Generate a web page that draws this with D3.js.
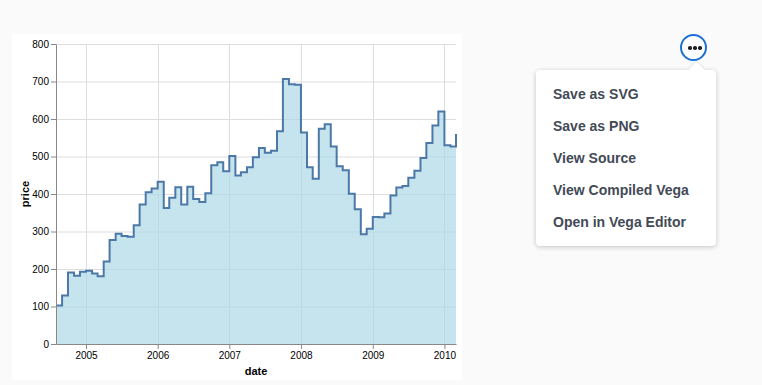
<!DOCTYPE html>
<html>
<head>
<meta charset="utf-8">
<script src="https://cdn.jsdelivr.net/npm/d3@7"></script>
<style>
  body { margin: 0; background: #fafafa; font-family: "Liberation Sans", Arial, sans-serif; }
  #wrap { position: relative; width: 762px; height: 385px; overflow: hidden; }
  .btn { position: absolute; left: 680px; top: 34px; width: 23px; height: 23px; border: 2px solid #1a6fd6;
         border-radius: 50%; background: #fff; }
  .dots { position: absolute; left: 6px; top: 10px; }
  .dots span { display: inline-block; width: 3.5px; height: 3.5px; border-radius: 50%; background: #1b1e23;
               margin-right: 1.5px; float: left; }
  .menu { position: absolute; left: 536px; top: 70px; width: 180px; height: 176px; background: #fff;
          border-radius: 4px; box-shadow: 0 1px 5px rgba(0,0,0,0.22); }
  .menu::before { content: ""; position: absolute; left: 155px; top: -6px; width: 11px; height: 11px;
                  background: #fff; transform: rotate(45deg); box-shadow: -1px -1px 2px rgba(0,0,0,0.08); }
  .menu div { position: relative; padding-left: 17px; height: 32px; line-height: 32px; font-size: 14px;
              font-weight: bold; color: #434a56; }
  .menu .first { margin-top: 8px; }
</style>
</head>
<body>
<div id="wrap">
  <svg id="chart" width="762" height="385"></svg>
  <div class="btn"><div class="dots"><span></span><span></span><span></span></div></div>
  <div class="menu">
    <div class="first">Save as SVG</div>
    <div>Save as PNG</div>
    <div>View Source</div>
    <div>View Compiled Vega</div>
    <div>Open in Vega Editor</div>
  </div>
</div>
<script>
// GOOG monthly prices
var dates = ["2004-08-01","2004-09-01","2004-10-01","2004-11-01","2004-12-01",
  "2005-01-01","2005-02-01","2005-03-01","2005-04-01","2005-05-01","2005-06-01",
  "2005-07-01","2005-08-01","2005-09-01","2005-10-01","2005-11-01","2005-12-01",
  "2006-01-01","2006-02-01","2006-03-01","2006-04-01","2006-05-01","2006-06-01",
  "2006-07-01","2006-08-01","2006-09-01","2006-10-01","2006-11-01","2006-12-01",
  "2007-01-01","2007-02-01","2007-03-01","2007-04-01","2007-05-01","2007-06-01",
  "2007-07-01","2007-08-01","2007-09-01","2007-10-01","2007-11-01","2007-12-01",
  "2008-01-01","2008-02-01","2008-03-01","2008-04-01","2008-05-01","2008-06-01",
  "2008-07-01","2008-08-01","2008-09-01","2008-10-01","2008-11-01","2008-12-01",
  "2009-01-01","2009-02-01","2009-03-01","2009-04-01","2009-05-01","2009-06-01",
  "2009-07-01","2009-08-01","2009-09-01","2009-10-01","2009-11-01","2009-12-01",
  "2010-01-01","2010-02-01","2010-03-01"];
var prices = [102.37, 129.6, 190.64, 181.98, 192.79,
  195.62, 187.99, 180.51, 220, 277.27, 294.15,
  287.76, 286, 316.46, 372.14, 404.91, 414.86,
  432.66, 362.62, 390, 417.94, 371.82, 419.33,
  386.6, 378.53, 401.9, 476.39, 484.81, 460.48,
  501.5, 449.45, 458.16, 471.38, 497.91, 522.7,
  510, 515.25, 567.27, 707, 693, 691.48,
  564.3, 471.18, 440.47, 574.29, 585.8, 526.42,
  473.75, 463.29, 400.52, 359.36, 292.96, 307.65,
  338.53, 337.99, 348.06, 395.97, 417.23, 421.59,
  443.05, 461.67, 495.85, 536.12, 583, 619.98,
  529.94, 526.8, 560.19];
var yTicks = [0, 100, 200, 300, 400, 500, 600, 700, 800];
var xTicks = ["2005", "2006", "2007", "2008", "2009", "2010"];

var parse = d3.timeParse("%Y-%m-%d");
var data = dates.map(function(d, i) { return { date: parse(d), price: prices[i] }; });

var svg = d3.select("#chart");
svg.append("rect").attr("x", 12).attr("y", 34).attr("width", 450).attr("height", 346).attr("fill", "#fff");

var g = svg.append("g").attr("transform", "translate(56,44)");
var W = 400, H = 300;

var x = d3.scaleTime().domain(d3.extent(data, function(d) { return d.date; })).range([0, W]);
var y = d3.scaleLinear().domain([0, 800]).range([H, 0]);
var yearDates = xTicks.map(function(t) { return parse(t + "-01-01"); });

// grid
g.append("g").selectAll("line").data(yTicks).enter().append("line")
  .attr("x1", 0).attr("x2", W).attr("y1", function(d) { return y(d) + 0.5; }).attr("y2", function(d) { return y(d) + 0.5; })
  .attr("stroke", "#ddd");
g.append("g").selectAll("line").data(yearDates).enter().append("line")
  .attr("y1", 0).attr("y2", H).attr("x1", function(d) { return Math.round(x(d)) + 0.5; }).attr("x2", function(d) { return Math.round(x(d)) + 0.5; })
  .attr("stroke", "#ddd");

// area + line
var area = d3.area().curve(d3.curveStepAfter)
  .x(function(d) { return x(d.date); }).y0(y(0)).y1(function(d) { return y(d.price); });
var line = d3.line().curve(d3.curveStepAfter)
  .x(function(d) { return x(d.date); }).y(function(d) { return y(d.price); });

g.append("path").datum(data).attr("d", area).attr("fill", "lightblue").attr("fill-opacity", 0.7);
g.append("path").datum(data).attr("d", line).attr("fill", "none").attr("stroke", "#4c78a8").attr("stroke-width", 2);

// axes
var xAxis = d3.axisBottom(x).tickValues(yearDates).tickFormat(d3.timeFormat("%Y")).tickSize(5).tickPadding(3);
var yAxis = d3.axisLeft(y).tickValues(yTicks).tickSize(5).tickPadding(2);

var gx = g.append("g").attr("transform", "translate(0," + H + ")").call(xAxis);
var gy = g.append("g").call(yAxis);
[gx, gy].forEach(function(a) {
  a.select(".domain").attr("stroke", "#888");
  a.selectAll(".tick line").attr("stroke", "#888");
  a.selectAll(".tick text").attr("fill", "#000").style("font", "10px 'Liberation Sans', Arial, sans-serif");
});
gx.select(".domain").attr("d", "M0.5,0.5H" + (W + 0.5));
gy.select(".domain").attr("d", "M0.5,0.5V" + (H + 0.5));

g.append("text").text("date").attr("x", W / 2).attr("y", H + 31)
  .attr("text-anchor", "middle").attr("fill", "#000")
  .style("font", "bold 11px 'Liberation Sans', Arial, sans-serif");
g.append("text").text("price").attr("transform", "translate(-27," + (H / 2) + ") rotate(-90)")
  .attr("text-anchor", "middle").attr("fill", "#000")
  .style("font", "bold 11px 'Liberation Sans', Arial, sans-serif");
</script>
</body>
</html>
